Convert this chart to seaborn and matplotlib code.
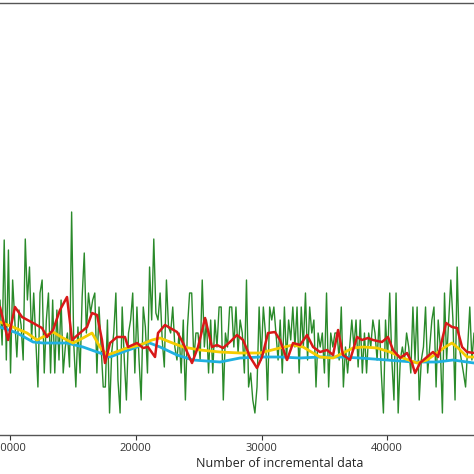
import numpy as np
import pandas as pd
import matplotlib
matplotlib.use("Agg")
import matplotlib.pyplot as plt
import seaborn as sns

# raw metric per incremental step (green)
raw_vals = [
    1.35, 0.90, 1.95, 0.75, 1.85, 0.62, 1.55, 1.15, 0.78, 1.25, 1.10, 0.75, 1.96, 1.35, 1.68, 0.95,
    1.42, 0.95, 0.48, 1.42, 1.55, 0.62, 1.15, 1.42, 0.62, 1.35, 0.62, 1.25, 0.75, 1.35, 0.62,
    0.88, 1.02, 0.68, 2.23, 0.92, 0.48, 1.08, 0.62, 1.38, 1.82, 1.02, 1.42, 1.22, 1.35, 1.42, 0.62,
    1.28, 0.88, 0.48, 0.48, 1.15, 0.22, 0.82, 1.02,
    1.42, 0.55, 0.22, 1.28, 0.75, 0.35, 1.02, 1.15, 1.42, 0.62, 1.28, 0.75, 0.35, 1.28, 1.08, 0.62,
    1.68, 1.15, 1.96, 1.22, 1.15, 1.42, 0.95, 0.68, 1.55, 1.08,
    1.02, 1.28, 0.88, 0.75, 1.02, 0.62, 1.15, 0.35, 1.08, 1.42, 1.42, 0.75, 1.02, 1.02, 0.75, 1.55,
    0.88, 1.15, 0.62, 1.15, 0.62, 1.15, 0.88, 1.28, 1.28, 0.35, 1.02, 0.88, 1.28,
    1.28, 0.88, 1.28, 0.82, 1.15, 1.02, 0.62, 1.55, 0.48, 0.62, 0.35, 0.22, 0.48, 1.28, 0.75, 1.28,
    1.02, 0.35, 1.28, 1.15, 1.28, 1.02, 0.75, 1.15, 0.62, 1.28, 0.75, 1.15, 0.95, 1.28,
    0.88, 1.28, 0.62, 1.28, 0.88, 1.42, 0.75, 1.28, 1.02, 1.15, 0.48, 1.02, 0.88, 1.02, 0.62, 1.42,
    0.48, 1.02, 0.88, 1.02, 1.02, 0.75, 1.28, 0.48, 0.88, 0.62, 0.88, 1.15, 0.88,
    1.15, 0.68, 1.15, 0.62, 1.02, 0.62, 1.02, 0.88, 1.15, 1.02, 0.75, 1.15, 0.62, 0.22, 1.15, 0.75,
    1.42, 0.75, 0.35, 1.42, 0.22, 0.75, 0.88, 0.75, 1.02, 0.88, 0.62, 1.28, 0.75,
    1.28, 0.35, 0.75, 0.88, 1.28, 0.62, 0.88, 1.15, 1.28, 0.48, 1.15, 0.88, 0.22, 1.42, 0.75, 1.15,
    1.55, 1.15, 0.35, 1.68, 0.88, 0.75, 0.62, 0.48, 0.88, 1.28, 0.75, 1.02,
]
raw_x = np.linspace(9200, 46900, len(raw_vals))

# short window average (red)
red_x = [9200, 9840, 10390, 10950, 11830, 12540, 12940, 13420, 13970, 14530, 14930, 15560, 16120,
         16520, 16920, 17310, 17550, 17950, 18510, 19140, 19380, 20100, 20570, 20970, 21530, 21770,
         22320, 23280, 23760, 24470, 24950, 25510, 26060, 26460, 26940, 27490, 28050, 28530, 29090,
         29640, 30040, 30520, 31070, 31470, 32030, 32510, 33060, 33620, 34100, 34650, 35210, 35690,
         36090, 36480, 37040, 37600, 37990, 38470, 38870, 39580, 40060, 40460, 41020, 41570, 41970,
         42210, 42610, 43160, 43640, 44040, 44680, 45150, 45550, 45950, 46350, 46900]
red_vals = [1.28, 0.95, 1.28, 1.18, 1.12, 1.07, 0.98, 1.05, 1.25, 1.38, 0.95, 1.02, 1.08,
            1.22, 1.20, 0.95, 0.72, 0.92, 0.98, 0.98, 0.88, 0.92, 0.87, 0.88, 0.78, 1.02,
            1.10, 1.03, 0.92, 0.72, 0.88, 1.17, 0.88, 0.90, 0.87, 0.93, 1.00, 0.95, 0.78,
            0.67, 0.78, 1.02, 1.03, 0.95, 0.75, 0.92, 0.90, 1.00, 0.88, 0.83, 0.85, 0.80,
            1.05, 0.80, 0.75, 0.98, 0.95, 0.97, 0.95, 0.93, 0.98, 0.85, 0.77, 0.82, 0.72,
            0.62, 0.72, 0.78, 0.83, 0.78, 1.12, 1.08, 1.07, 0.88, 0.83, 0.82]

# longer window average (yellow)
yellow_x = [9200, 10230, 11350, 12140, 12620, 13420, 14210, 15010, 15800, 16520, 17150, 17710,
            18190, 19300, 20340, 21290, 21930, 22720, 23760, 25110, 26700, 28290, 29880, 31470,
            32510, 33300, 34100, 34650, 35690, 36480, 37280, 38070, 39190, 40220, 41260, 42370,
            43160, 43960, 44600, 45150, 45630, 46350, 46900]
yellow_vals = [1.13, 1.08, 1.02, 0.95, 0.98, 1.03, 0.97, 0.92, 0.97, 1.02, 0.88, 0.80,
               0.82, 0.87, 0.90, 0.95, 0.97, 0.93, 0.88, 0.85, 0.83, 0.82, 0.82, 0.87,
               0.90, 0.88, 0.82, 0.78, 0.77, 0.82, 0.87, 0.88, 0.87, 0.83, 0.77, 0.72,
               0.75, 0.82, 0.88, 0.92, 0.87, 0.78, 0.78]

# long-term trend (blue)
blue_x = [9200, 10550, 11830, 12620, 14530, 15800, 17150, 17950, 18980, 20100, 20890, 21930,
          23280, 24550, 26700, 28290, 29880, 31470, 33060, 34650, 36240, 37830, 39980, 42050,
          43960, 45230, 46900]
blue_vals = [1.08, 1.02, 0.93, 0.92, 0.92, 0.88, 0.82, 0.78, 0.83, 0.88, 0.93, 0.88,
             0.80, 0.75, 0.73, 0.77, 0.78, 0.78, 0.77, 0.78, 0.78, 0.77, 0.75, 0.73,
             0.73, 0.75, 0.72]

sns.set_style("ticks")
plt.rcParams["font.family"] = ["Open Sans", "DejaVu Sans"]

fig = plt.figure(figsize=(4.74, 4.74), dpi=100)
ax = fig.add_axes([0, 39 / 474, 1, 432.5 / 474])

sns.lineplot(x=raw_x, y=raw_vals, ax=ax, color="#2a8a2a", linewidth=1.0)
sns.lineplot(x=blue_x, y=blue_vals, ax=ax, color="#1fb0e0", linewidth=2.0)
sns.lineplot(x=yellow_x, y=yellow_vals, ax=ax, color="#f5cc00", linewidth=2.0)
sns.lineplot(x=red_x, y=red_vals, ax=ax, color="#d81818", linewidth=1.8)

ax.set_xlim(9200, 46900)
ax.set_ylim(0, 4.325)
ax.set_xticks([10000, 20000, 30000, 40000])
ax.tick_params(axis="x", labelsize=8, length=3.5, width=0.8, pad=2, colors="#333333")
ax.set_yticks([])
ax.spines["left"].set_visible(False)
ax.spines["right"].set_visible(False)
for side in ["top", "bottom"]:
    ax.spines[side].set_color("#555555")
    ax.spines[side].set_linewidth(1.0)
ax.set_xlabel("Number of incremental data", fontsize=9, color="#222222")
# the full axes runs past the right edge, so the label sits right of centre
ax.xaxis.set_label_coords(0.59, -0.052)

fig.savefig("out.png", dpi=100)
